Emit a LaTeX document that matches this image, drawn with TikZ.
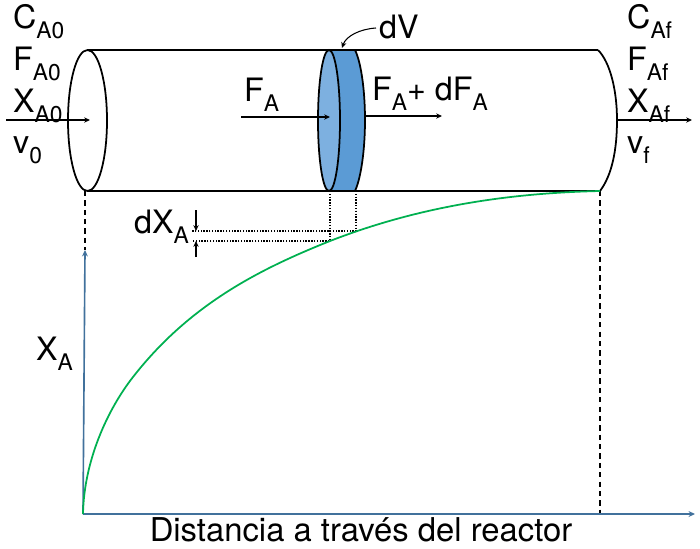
\documentclass[tikz,border=0pt]{standalone}
\usepackage{fontspec}
\setmainfont{TeX Gyre Heros}
\usetikzlibrary{arrows.meta}
\definecolor{discfront}{HTML}{7DB0E0}
\definecolor{discside}{HTML}{5B9BD5}
\definecolor{axisblue}{HTML}{41719C}
\definecolor{curvegreen}{HTML}{00B050}
\newcommand{\sbs}[1]{\raisebox{-0.33em}{\fontsize{19.5}{19.5}\selectfont #1}}
\tikzset{
  label text/.style={anchor=base west,inner sep=0pt,font=\fontsize{27.5}{30}\selectfont},
  wall/.style={line width=1.5pt},
  flow/.style={line width=0.9pt,-{Stealth[length=5pt,width=4.5pt]}},
  guide/.style={line width=1.1pt,dash pattern=on 4.5pt off 3.5pt},
  dots/.style={line width=1pt,dash pattern=on 1.2pt off 1.2pt},
  axis/.style={axisblue,line width=1.4pt,-{Stealth[length=5.5pt,width=5pt]}}
}
\begin{document}
\begin{tikzpicture}[x=0.03cm,y=-0.03cm]
    \useasboundingbox (0,0) rectangle (700,548);

    % tube
    \draw[wall] (87,50) -- (598,50);
    \draw[wall] (87,191) -- (600,191);
    \draw[wall] (87.5,120.5) ellipse (19.5 and 70.5);
    \draw[wall] (598,50) .. controls (610,62) and (617,90) .. (617,120) .. controls (617,150) and (612,175) .. (600,191);

    % slice
    \draw[wall,fill=discside] (330,50) -- (355,50) .. controls (361,62) and (365,90) .. (365,120)
      .. controls (365,150) and (361,178) .. (355,191) -- (330,191) -- cycle;
    \draw[wall,fill=discfront] (329,120.5) ellipse (11 and 70.5);

    % coordinates for the connectors
    \coordinate (inStart) at (6,120);
    \coordinate (inEnd) at (90,120);
    \coordinate (outStart) at (617,120);
    \coordinate (outEnd) at (692,120);
    \coordinate (sliceInStart) at (241,117);
    \coordinate (sliceInEnd) at (330,117);
    \coordinate (sliceOutStart) at (365,116);
    \coordinate (sliceOutEnd) at (442,116);
    \coordinate (origin) at (83,514);
    \coordinate (yEnd) at (85,250);
    \coordinate (xEnd) at (695,514);
    \coordinate (curveEnd) at (600,191);
    \coordinate (curveMid) at (133,377);
    \coordinate (curveA) at (330,241);
    \coordinate (curveB) at (356,231);

    \draw[flow] (inStart) -- (inEnd);
    \draw[flow] (outStart) -- (outEnd);
    \draw[flow] (sliceInStart) -- (sliceInEnd);
    \draw[flow] (sliceOutStart) -- (sliceOutEnd);

    % labels
    \node[label text] (CA0) at (13,28) {C\sbs{A0}};
    \node[label text] (FA0) at (13,70) {F\sbs{A0}};
    \node[label text] (XA0) at (13,112) {X\sbs{A0}};
    \node[label text] (v0) at (13,153) {v\sbs{0}};
    \node[label text] (CAf) at (627,28) {C\sbs{Af}};
    \node[label text] (FAf) at (627,70) {F\sbs{Af}};
    \node[label text] (XAf) at (627,112) {X\sbs{Af}};
    \node[label text] (vf) at (627,153) {v\sbs{f}};
    \node[label text] (FA) at (244,101) {F\sbs{A}};
    \node[label text] (FAdFA) at (372,100) {F\sbs{A}+ dF\sbs{A}};
    \node[label text] (dV) at (379,38) {dV};
    \node[label text] (dXA) at (134,233) {dX\sbs{A}};
    \node[label text] (XA) at (36,360) {X\sbs{A}};
    \node[label text,anchor=base,font=\fontsize{28}{30}\selectfont] (xlabel) at (361,541) {Distancia a través del reactor};

    \draw[line width=0.9pt,-{Stealth[length=5pt,width=4.5pt]}] (376,28) .. controls (360,29) and (346,36) .. (342,48);

    % guides down to the plot
    \draw[guide] (85,191) -- (yEnd);
    \draw[guide] (curveEnd) -- (600,515);
    \draw[dots] (330,191) -- (curveA) -- (192,241);
    \draw[dots] (356,191) -- (curveB) -- (192,231);
    \draw[flow] (196,210) -- (196,231);
    \draw[flow] (196,257) -- (196,241);

    % plot
    \draw[axis] (origin) -- (yEnd);
    \draw[axis] (origin) -- (xEnd);
    \draw[curvegreen,line width=1.5pt] (origin) .. controls (84,460) and (108,409) .. (curveMid)
      .. controls (190,304) and (260,269) .. (curveA)
      .. controls (420,206) and (510,193) .. (curveEnd);
\end{tikzpicture}
\end{document}
